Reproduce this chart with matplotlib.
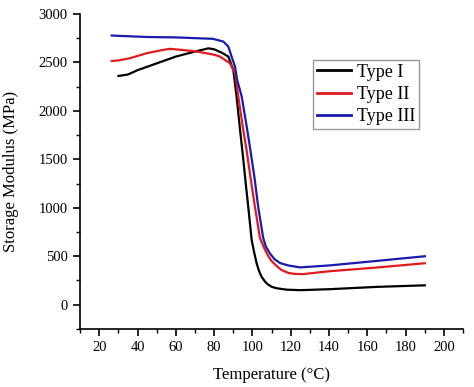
import matplotlib
matplotlib.use("Agg")
import matplotlib.pyplot as plt
from matplotlib.ticker import MultipleLocator

# temperature (°C) / storage modulus (MPa)
type1_t = [30, 35, 40, 50, 60, 70, 77, 80, 84, 87.4, 90, 91.7, 93.5, 95.2, 96.5,
           97.8, 99.6, 101, 102.2, 103.5, 104.8, 106.5, 108, 110, 112.6, 118, 125,
           140, 165, 190]
type1_e = [2360, 2375, 2420, 2490, 2560, 2612, 2645, 2635, 2600, 2560, 2423, 2147,
           1810, 1500, 1250, 1010, 666, 530, 426, 345, 287, 240, 210, 185, 170, 155,
           150, 160, 184, 200]

type2_t = [26.5, 30, 36, 44.8, 53.4, 57, 65, 71, 80.3, 83, 88.2, 90.9, 92.6, 95.2,
           96.9, 99, 101.3, 103.9, 106, 108, 110, 112.6, 115, 118.7, 122, 126.4,
           140, 165, 190]
type2_e = [2515, 2520, 2543, 2595, 2629, 2640, 2625, 2612, 2578, 2560, 2492, 2389,
           2147, 1803, 1600, 1310, 1010, 690, 590, 510, 450, 400, 360, 328, 318, 316,
           345, 384, 428]

type3_t = [26.5, 44.8, 60, 79.4, 84.8, 87.4, 89.1, 90.9, 92, 94.4, 97, 98.5, 101,
           103, 105.6, 107, 109.1, 111.5, 114.4, 118.7, 124.8, 140, 165, 190]
type3_e = [2777, 2762, 2758, 2743, 2715, 2663, 2560, 2457, 2320, 2147, 1837, 1650,
           1320, 1010, 690, 600, 529, 470, 430, 405, 385, 405, 452, 500]

labels = ["Type I", "Type II", "Type III"]
colors = ["#000000", "#e01a1f", "#1a1ab0"]

plt.rcParams["font.family"] = ["Liberation Serif", "DejaVu Serif"]

fig = plt.figure(figsize=(4.74, 3.87), dpi=100)
ax = fig.add_axes([0.169, 0.150, 0.808, 0.814])

for t, e, lab, c in zip([type1_t, type2_t, type3_t], [type1_e, type2_e, type3_e], labels, colors):
    ax.plot(t, e, color=c, lw=1.6, label=lab, solid_joinstyle="round")

ax.set_xlim(10, 210)
ax.set_ylim(-250, 3000)
ax.xaxis.set_major_locator(MultipleLocator(20))
ax.xaxis.set_minor_locator(MultipleLocator(10))
ax.yaxis.set_major_locator(MultipleLocator(500))
ax.yaxis.set_minor_locator(MultipleLocator(250))
ax.set_xticks(range(20, 201, 20))
ax.set_yticks(range(0, 3001, 500))

for side in ["top", "right"]:
    ax.spines[side].set_visible(False)
for side in ["left", "bottom"]:
    ax.spines[side].set_linewidth(1.2)

ax.tick_params(which="major", direction="out", length=5, width=1.2, labelsize=10.5, pad=4)
ax.tick_params(which="minor", direction="out", length=3, width=1.0)

ax.set_xlabel("Temperature (°C)", fontsize=12, labelpad=9)
ax.set_ylabel("Storage Modulus (MPa)", fontsize=12, labelpad=14)

leg = ax.legend(loc="upper left", bbox_to_anchor=(0.608, 0.854), borderaxespad=0,
                fontsize=13, handlelength=1.9, handletextpad=0.35, labelspacing=0.3,
                borderpad=0.2, fancybox=False, framealpha=1)
leg.get_frame().set_edgecolor("#999999")
leg.get_frame().set_linewidth(1.0)
for line in leg.get_lines():
    line.set_linewidth(2.0)

fig.savefig("out.png", dpi=100)
